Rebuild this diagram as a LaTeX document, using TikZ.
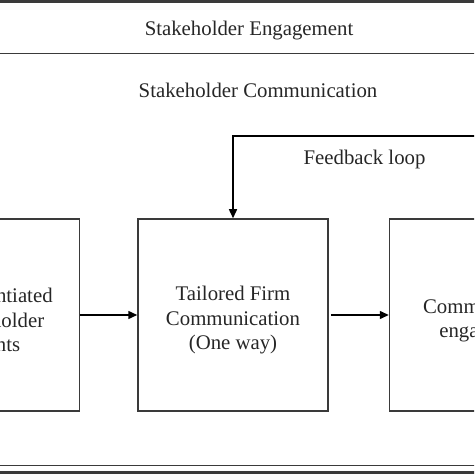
\documentclass[tikz,border=0pt]{standalone}
\usepackage{fontspec}
\setmainfont{Liberation Serif}
\usetikzlibrary{positioning,arrows.meta}
\definecolor{linegray}{HTML}{3A3A3A}
\definecolor{textgray}{HTML}{262626}
\newcommand{\topstrut}{\rule{0pt}{12.5pt}}

\begin{document}
\begin{tikzpicture}[x=0.5pt,y=-0.5pt,
    box/.style={draw=linegray, line width=0.75pt, minimum width=95pt, minimum height=96pt,
      align=center, text=textgray, font=\fontsize{10.4}{12.25}\selectfont},
    heading/.style={text=textgray, font=\fontsize{10.4}{12}\selectfont, anchor=base},
    flow/.style={-{Triangle[length=4.5pt,width=4pt]}, line width=0.75pt, draw=black}]
    \useasboundingbox (0,0) rectangle (474,474);
    \clip (0,0) rectangle (474,474);

    % frames
    \draw[linegray, line width=1.5pt] (-20,1.5) rectangle (494,472.5);
    \draw[linegray, line width=0.7pt] (-10,53.5) rectangle (484,465.5);
    \node[heading] (engage) at (249,35.5) {Stakeholder Engagement};
    \node[heading] (comm) at (258,98) {Stakeholder Communication};

    % boxes
    \node[box] (tailored) at (233,315) {\topstrut Tailored Firm\\Communication\\(One way)};
    \node[box, minimum width=85pt, left=28.5pt of tailored] (segments) {\topstrut Differentiated\\Stakeholder\\Wants};
    \node[box, minimum width=100pt, right=30pt of tailored] (engagement) {\topstrut Communicative\\engagement};

    % arrows
    \draw[flow] (segments) -- (tailored);
    \draw[flow, shorten <=1pt] (tailored) -- (engagement);

    % feedback loop
    \draw[flow] (engagement.north) -- ++(0,-82) -| (tailored.north);
    \node[heading] (feedback) at (364.5,165) {Feedback loop};
\end{tikzpicture}
\end{document}
